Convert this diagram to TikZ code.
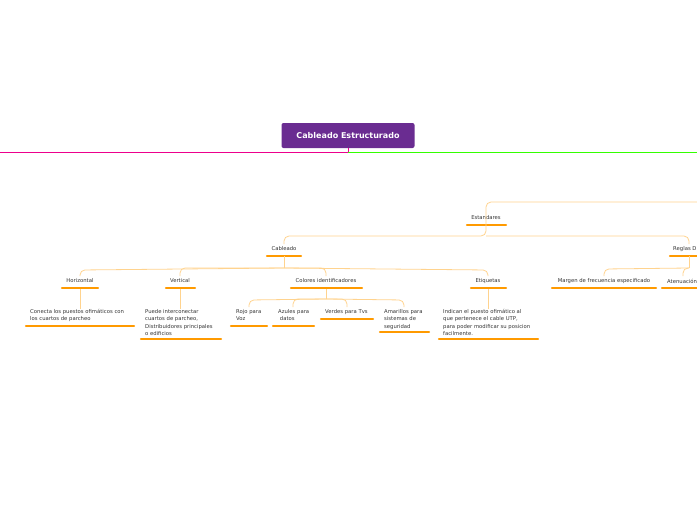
\documentclass[tikz,border=0pt]{standalone}
\usepackage{fontspec}
\setmainfont{DejaVu Sans}
\definecolor{bar}{HTML}{FF9A00}
\definecolor{conn}{HTML}{FFD38E}
\definecolor{tit}{HTML}{6A2C91}
\definecolor{txt}{HTML}{333333}
\tikzset{
 lbl/.style={inner sep=0pt,font=\fontsize{5.3}{7.4}\selectfont,text=txt,align=left},
 barline/.style={draw=bar,line width=2.2pt,line cap=round},
 con/.style={draw=conn,line width=0.8pt,rounded corners=5pt}
}
\begin{document}
\begin{tikzpicture}[x=1pt,y=-1pt]
\useasboundingbox (0,0) rectangle (697,520);
\node[fill=tit,rounded corners=2pt,minimum width=133pt,minimum height=25pt,text=white,font=\fontsize{8}{9}\selectfont\bfseries] (title) at (348,135.5) {Cableado Estructurado};
\coordinate (tb) at (348,152);
\coordinate (le) at (0,152);
\coordinate (re) at (697,152);
\draw[magenta,line width=0.8pt] (title.south) -- (tb) -- (le);
\draw[green!80!yellow,line width=0.8pt] (tb) -- (re);
% Estandares
\node[lbl] (est) at (486,218) {Estandares};
\coordinate (estb) at (486,225);
\draw[barline] (467,225) -- (506,225);
\coordinate (estin) at (697,202);
\draw[con] (estb) -- (486,202) -- (estin);
% Cableado & Reglas
\node[lbl] (cab) at (284,249) {Cableado};
\draw[barline] (267,256) -- (301,256);
\node[lbl,anchor=west] (reg) at (673,249) {Reglas D};
\draw[barline] (670,256) -- (697,256);
\draw[con] (estb) -- (486,236) -- (284,236) -- (284,244);
\draw[con] (486,236) -- (689,236) -- (689,244);
% level 2 under Cableado
\coordinate (cabb) at (284,256);
\node[lbl] (hor) at (80,281) {Horizontal};
\draw[barline] (62,288) -- (98,288);
\node[lbl] (ver) at (180,281) {Vertical};
\draw[barline] (166,288) -- (195,288);
\node[lbl] (col) at (326,281) {Colores identificadores};
\draw[barline] (291,288) -- (362,288);
\node[lbl] (eti) at (488,281) {Etiquetas};
\draw[barline] (471,288) -- (506,288);
\draw[con] (cabb) -- (284,268);
\draw[con] (284,268) -- (80,270) -- (80,276);
\draw[con] (284,268) -- (180,268) -- (180,276);
\draw[con] (284,268) -- (326,268) -- (326,276);
\draw[con] (284,268) -- (488,270) -- (488,276);
% Reglas children
\node[lbl] (mar) at (604,281) {Margen de frecuencia especificado};
\draw[barline] (552,288) -- (656,288);
\node[lbl,anchor=west] (ate) at (667,281) {Atenuación};
\draw[barline] (662,288) -- (697,288);
\draw[con] (689,256) -- (689,268);
\draw[con] (689,268) -- (604,269) -- (604,276);
\draw[con] (689,268) -- (683,268) -- (683,276);
% leaves
\node[lbl,anchor=north west] (hort) at (30,309) {Conecta los puestos ofimáticos con\\los cuartos de parcheo};
\draw[barline] (26,326) -- (134,326);
\draw[con] (80,289) -- (hort.north -| 80,0);
\node[lbl,anchor=north west] (vert) at (145,309) {Puede interconectar\\cuartos de parcheo,\\Distribuidores principales\\o edificios};
\draw[barline] (141,339) -- (221,339);
\draw[con] (180,289) -- (vert.north -| 180,0);
\node[lbl,anchor=north west] (etit) at (443,309) {Indican el puesto ofimático al\\que pertenece el cable UTP,\\para poder modificar su posicion\\facilmente.};
\draw[barline] (439,339) -- (538,339);
\draw[con] (488,289) -- (etit.north -| 488,0);
% colores children
\node[lbl,anchor=north west] (rojo) at (236,309) {Rojo para\\Voz};
\draw[barline] (231,326) -- (267,326);
\node[lbl,anchor=north west] (azul) at (278,309) {Azules para\\\ datos};
\draw[barline] (273,326) -- (314,326);
\node[lbl,anchor=north west] (verd) at (325,309) {Verdes para Tvs};
\draw[barline] (321,319) -- (373,319);
\node[lbl,anchor=north west] (amar) at (384,309) {Amarillos para\\sistemas de\\seguridad};
\draw[barline] (380,332) -- (429,332);
\draw[con] (326,289) -- (326,299);
\draw[con] (326,299) -- (249,300) -- (249,307);
\draw[con] (326,299) -- (293,299) -- (293,307);
\draw[con] (326,299) -- (347,299) -- (347,307);
\draw[con] (326,299) -- (404,300) -- (404,307);
\end{tikzpicture}
\end{document}
